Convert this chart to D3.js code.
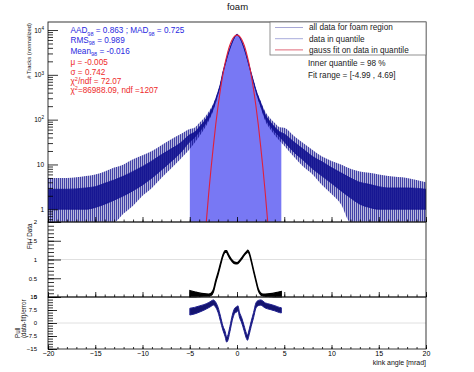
<!DOCTYPE html>
<html>
<head>
<meta charset="utf-8">
<script src="https://cdn.jsdelivr.net/npm/d3@7"></script>
<style>
body { margin: 0; background: #fff; }
svg { display: block; font-family: "Liberation Sans", Arial, sans-serif; }
</style>
</head>
<body>
<div id="chart"></div>
<script>
// histogram of kink angle (dense body + sparse spikes)
var histX   = [-20, -18, -16, -15, -14, -13, -12, -11, -10, -9, -8, -7, -6, -5, -4.5, -4, -3.5, -3, -2.5, -2,
               -1.75, -1.5, -1.25, -1, -0.75, -0.5, -0.25, 0, 0.25, 0.5, 0.75, 1, 1.25, 1.5, 1.75, 2,
               2.5, 3, 3.5, 4, 4.5, 5, 6, 7, 8, 9, 10, 11, 12, 13, 14, 15, 16, 18, 20];
var bodyLo  = [1, 1, 1, 1.1, 1.3, 1.6, 2, 2.6, 3.5, 5, 7.5, 11.5, 18, 32, 40, 53, 72, 105, 180, 385,
               595, 1060, 1700, 2640, 3830, 5320, 6900, 7900, 7000, 5420, 3880, 2590, 1660, 1050, 680, 430,
               205, 106, 73, 54, 42, 32, 19, 12.5, 8, 5.5, 3.8, 2.6, 1.8, 1.3, 1.1, 1, 1, 1, 1];
var bodyHi  = [2.8, 2.8, 3, 3.2, 3.8, 4.5, 5.5, 7, 9, 12, 16.5, 22, 30, 46, 52, 68, 90, 128, 210, 420,
               640, 1140, 1780, 2740, 3950, 5460, 7050, 8050, 7150, 5560, 4000, 2680, 1730, 1100, 715, 465,
               240, 128, 90, 68, 54, 48, 32, 22, 15, 11.5, 8.5, 6.5, 5, 4, 3.6, 3.2, 3, 3, 2.8];
var spikeLo = [0, 0, 0, 0, 0, 0, 0.8, 1.2, 2, 3, 5, 8, 13, 22, 30, 42, 60, 92, 160, 360,
               570, 1020, 1650, 2570, 3750, 5200, 6750, 7750, 6850, 5300, 3790, 2520, 1600, 1010, 650, 405,
               190, 92, 62, 45, 34, 26, 15, 9, 6, 3.5, 2.2, 1.3, 0, 0, 0, 0, 0, 0, 0];
var spikeHi = [5, 5, 5.5, 6, 7, 8.5, 10, 13, 16, 20, 27, 36, 47, 62, 66, 84, 108, 150, 230, 440,
               670, 1180, 1840, 2800, 4050, 5580, 7200, 8200, 7300, 5680, 4100, 2750, 1780, 1140, 740, 490,
               260, 150, 108, 84, 68, 66, 44, 30, 21, 15, 12, 10, 8, 7, 6.5, 6, 5.5, 5, 4];

// gauss fit curve
var gaussX = [-3.5, -3.25, -3, -2.75, -2.5, -2.25, -2, -1.75, -1.5, -1.25, -1, -0.75, -0.5, -0.25, 0,
              0.25, 0.5, 0.75, 1, 1.25, 1.5, 1.75, 2, 2.25, 2.5, 2.75, 3, 3.25, 3.5];
var gaussY = [0.11, 0.52, 2.2, 8, 26, 78, 204, 476, 997, 1863, 3105, 4620, 6137, 7275, 7700,
              7275, 6137, 4620, 3105, 1863, 997, 476, 204, 78, 26, 8, 2.2, 0.52, 0.11];

// fit / data ratio band
var ratioX  = [-4.99, -4.5, -4, -3.5, -3, -2.75, -2.5, -2.25, -2, -1.75, -1.5, -1.25, -1.1, -1, -0.75, -0.5, -0.25, 0,
               0.25, 0.5, 0.75, 1, 1.15, 1.3, 1.5, 1.75, 2, 2.25, 2.5, 2.75, 3, 3.5, 4, 4.5, 4.69];
var ratioLo = [0, 0, 0.01, 0.02, 0.03, 0.04, 0.13, 0.38, 0.6, 0.84, 1.07, 1.19, 1.19, 1.14, 1.02, 0.94, 0.89, 0.88,
               0.93, 1.01, 1.1, 1.17, 1.2, 1.14, 0.95, 0.68, 0.42, 0.17, 0.06, 0.03, 0.02, 0.01, 0, 0, 0];
var ratioHi = [0.17, 0.14, 0.11, 0.09, 0.08, 0.1, 0.2, 0.45, 0.66, 0.9, 1.12, 1.24, 1.24, 1.19, 1.07, 0.98, 0.93, 0.92,
               0.97, 1.05, 1.14, 1.21, 1.25, 1.19, 1.0, 0.73, 0.47, 0.22, 0.11, 0.08, 0.08, 0.09, 0.11, 0.14, 0.15];

// pull band
var pullX  = [-4.99, -4.5, -4, -3.5, -3, -2.75, -2.5, -2.25, -2, -1.75, -1.5, -1.25, -1.1, -1, -0.75, -0.5, -0.25, 0,
              0.1, 0.25, 0.5, 0.75, 1, 1.1, 1.3, 1.5, 1.75, 2, 2.25, 2.5, 3, 3.5, 4, 4.5, 4.69];
var pullLo = [4.6, 5.2, 6.2, 7.4, 8.8, 9.6, 10.4, 9, 6, 1, -4, -8, -11, -10.5, -5, 1.5, 5.5, 6.5,
              7, 3.5, 0, -4.5, -9, -10, -6.5, -2, 3, 8.5, 10, 10.3, 8.6, 7.8, 7, 6, 5.8];
var pullHi = [8.5, 9, 9.8, 10.6, 11.8, 12.6, 13.3, 12, 9, 4, -1.5, -5, -8, -7.5, -2, 4.5, 8.5, 9.5,
              10, 6.5, 3, -1.5, -6, -7, -3.5, 1, 6, 11.5, 13, 13.3, 11.6, 10.8, 10, 9, 8.8];

var logMajor = [1, 10, 100, 1000, 10000];
var xMajor = [-20, -15, -10, -5, 0, 5, 10, 15, 20];

var navy = "#10108f";
var fillBlue = "#7878f4";
var fitRed = "#e0203a";

// page / frame geometry
var svgWidth = 474, svgHeight = 372;
var left = 48, right = 426;
var topY0 = 22, topY1 = 222, midY1 = 297, botY1 = 349;

var svg = d3.select("#chart").append("svg")
    .attr("width", svgWidth)
    .attr("height", svgHeight);

var x = d3.scaleLinear().domain([-20, 20]).range([left, right]);
var yTop = d3.scaleLog().domain([0.52, 15100]).range([topY1, topY0]).clamp(true);
var yFree = yTop.copy().clamp(false);
var yMid = d3.scaleLinear().domain([0, 2]).range([midY1, topY1]);
var yBot = d3.scaleLinear().domain([-15, 15]).range([botY1, midY1]);

var idx = d3.range(histX.length);

var defs = svg.append("defs");
defs.append("clipPath").attr("id", "clipTop")
  .append("rect").attr("x", left).attr("y", topY0).attr("width", right - left).attr("height", topY1 - topY0);
defs.append("clipPath").attr("id", "clipQuant")
  .append("rect").attr("x", x(-4.99)).attr("y", topY0).attr("width", x(4.69) - x(-4.99)).attr("height", topY1 - topY0);
// thin vertical strokes, like many narrow histogram bins
var pat = defs.append("pattern").attr("id", "bins")
    .attr("patternUnits", "userSpaceOnUse").attr("width", 2).attr("height", 4);
pat.append("rect").attr("x", 0).attr("y", 0).attr("width", 2).attr("height", 4)
    .attr("fill", navy).attr("fill-opacity", 0.3);
pat.append("rect").attr("x", 0).attr("y", 0).attr("width", 1).attr("height", 4)
    .attr("fill", navy).attr("fill-opacity", 0.7);

var topG = svg.append("g").attr("clip-path", "url(#clipTop)");

function band(lo, hi, xs, ys) {
    return d3.area()
        .x(i => x(xs[i]))
        .y0(i => ys(lo[i]))
        .y1(i => ys(hi[i]))
        .curve(d3.curveMonotoneX);
}

// data in quantile (filled)
topG.append("path")
    .attr("clip-path", "url(#clipQuant)")
    .attr("d", d3.area().x(i => x(histX[i])).y0(topY1).y1(i => yTop(bodyHi[i])).curve(d3.curveMonotoneX)(idx))
    .attr("fill", fillBlue);

// all data: sparse spikes then dense body
topG.append("path")
    .attr("d", band(spikeLo, spikeHi, histX, yTop)(idx))
    .attr("fill", "url(#bins)");
topG.append("path")
    .attr("d", band(bodyLo, bodyHi, histX, yTop)(idx))
    .attr("fill", navy)
    .attr("fill-opacity", 0.88)
    .attr("stroke", navy)
    .attr("stroke-width", 0.7);

// gauss fit
topG.append("path")
    .attr("d", d3.line().x((d, i) => x(gaussX[i])).y(d => yFree(d)).curve(d3.curveMonotoneX)(gaussY))
    .attr("fill", "none")
    .attr("stroke", fitRed)
    .attr("stroke-width", 1.1);

// grid lines in lower panels
svg.append("line").attr("x1", left).attr("x2", right).attr("y1", yMid(1)).attr("y2", yMid(1))
    .attr("stroke", "#d8d8d8").attr("stroke-width", 0.8);
svg.append("line").attr("x1", left).attr("x2", right).attr("y1", yBot(0)).attr("y2", yBot(0))
    .attr("stroke", "#d8d8d8").attr("stroke-width", 0.8);

// fit / data ratio
var ri = d3.range(ratioX.length);
svg.append("path")
    .attr("d", band(ratioLo, ratioHi, ratioX, yMid)(ri))
    .attr("fill", "#000")
    .attr("stroke", "#000")
    .attr("stroke-width", 1.2);

// pull
var pi = d3.range(pullX.length);
svg.append("path")
    .attr("d", band(pullLo, pullHi, pullX, yBot)(pi))
    .attr("fill", "#141470")
    .attr("stroke", "#202090")
    .attr("stroke-width", 1);

// frames
[[topY0, topY1], [topY1, midY1], [midY1, botY1]].forEach(function(p) {
    svg.append("rect")
        .attr("x", left).attr("y", p[0])
        .attr("width", right - left).attr("height", p[1] - p[0])
        .attr("fill", "none").attr("stroke", "#222").attr("stroke-width", 0.9);
});

// axis helper: inward ticks
function drawAxis(axis, tx, ty, size) {
    var g = svg.append("g")
        .attr("transform", `translate(${tx}, ${ty})`)
        .style("color", "#000")
        .call(axis);
    g.select(".domain").remove();
    g.attr("font-size", size).attr("font-family", "Liberation Sans, Arial, sans-serif");
    g.selectAll(".tick line").attr("stroke-width", 0.8);
    return g;
}

// top panel log y axis
var logMinor = [];
[0.1, 1, 10, 100, 1000].forEach(function(d) {
    for (var k = 2; k <= 9; k++) {
        if (k * d >= 0.52 && k * d <= 15100) logMinor.push(k * d);
    }
});
var topAx = drawAxis(d3.axisLeft(yTop).tickValues(logMajor).tickSize(-10).tickPadding(4), left, 0, 6.5);
topAx.selectAll(".tick text").each(function(d) {
    var e = Math.round(Math.log10(d));
    var t = d3.select(this).text(null);
    if (e < 2) { t.text(d); return; }
    t.append("tspan").text("10");
    t.append("tspan").attr("dy", -2.8).attr("font-size", 4.6).text(e);
});
drawAxis(d3.axisLeft(yTop).tickValues(logMinor).tickSize(-5).tickFormat(""), left, 0, 6.5);

// ratio axis
drawAxis(d3.axisLeft(yMid).tickValues([0, 0.5, 1, 1.5, 2]).tickSize(-13).tickPadding(11)
    .tickFormat(d3.format("")), left, 0, 6);
drawAxis(d3.axisLeft(yMid).tickValues(d3.range(0, 2.01, 0.1)).tickSize(-6).tickFormat(""), left, 0, 6);

// pull axis
drawAxis(d3.axisLeft(yBot).tickValues([-15, -7.5, 0, 7.5, 15]).tickSize(-9).tickPadding(11)
    .tickFormat(d3.format("")), left, 0, 6);
drawAxis(d3.axisLeft(yBot).tickValues(d3.range(-15, 15.1, 1.5)).tickSize(-5).tickFormat(""), left, 0, 6);

// x ticks on each panel bottom
var xMinor = d3.range(-20, 20.1, 1);
[topY1, midY1].forEach(function(yy) {
    drawAxis(d3.axisBottom(x).tickValues(xMajor).tickSize(-5).tickFormat(""), 0, yy, 7);
    drawAxis(d3.axisBottom(x).tickValues(xMinor).tickSize(-2.5).tickFormat(""), 0, yy, 7);
});
drawAxis(d3.axisBottom(x).tickValues(xMajor).tickSize(-4).tickPadding(2).tickFormat(d3.format("")), 0, botY1, 7);
drawAxis(d3.axisBottom(x).tickValues(xMinor).tickSize(-2).tickFormat(""), 0, botY1, 7);

// axis titles
svg.append("text").attr("x", right).attr("y", 365).attr("text-anchor", "end")
    .attr("font-size", 7).attr("fill", "#111").text("kink angle [mrad]");
svg.append("text").attr("transform", "translate(31, 23) rotate(-90)").attr("text-anchor", "end")
    .attr("font-size", 5.8).attr("fill", "#111").text("# Tracks (normalized)");
svg.append("text").attr("transform", "translate(32, 223.5) rotate(-90)").attr("text-anchor", "end")
    .attr("font-size", 6.3).attr("fill", "#111").text("Fit / Data");
svg.append("text").attr("transform", "translate(19.5, 338) rotate(-90)").attr("text-anchor", "start")
    .attr("font-size", 6.3).attr("fill", "#111").text("Pull");
svg.append("text").attr("transform", "translate(25.5, 338) rotate(-90)").attr("text-anchor", "start")
    .attr("font-size", 6.3).attr("fill", "#111").text("(data-fit)/error");

// title
svg.append("text").attr("x", 237.5).attr("y", 10).attr("text-anchor", "middle")
    .attr("font-size", 9.5).attr("fill", "#111").text("foam");

// text with sub / superscripts
function richText(px, py, parts, size, color) {
    var t = svg.append("text").attr("x", px).attr("y", py)
        .attr("font-size", size).attr("fill", color);
    var shift = 0;
    parts.forEach(function(p) {
        var s = p[1] === "sub" ? size * 0.3 : p[1] === "sup" ? -size * 0.36 : 0;
        t.append("tspan")
            .attr("dy", s - shift)
            .attr("font-size", p[1] ? size * 0.68 : size)
            .text(p[0]);
        shift = s;
    });
    return t;
}

var statBlue = "#2828e0", statRed = "#ee2a2a";
richText(70.5, 33.3, [["AAD"], ["98", "sub"], [" = 0.863 ; MAD"], ["98", "sub"], [" = 0.725"]], 8.2, statBlue);
richText(70.5, 42.7, [["RMS"], ["98", "sub"], [" = 0.989"]], 8.2, statBlue);
richText(70.5, 54, [["Mean"], ["98", "sub"], [" = -0.016"]], 8.2, statBlue);
richText(70.5, 65.3, [["\u03bc = -0.005"]], 8.2, statRed);
richText(70.5, 74.8, [["\u03c3 = 0.742"]], 8.2, statRed);
richText(70.5, 83.8, [["\u03c7"], ["2", "sup"], ["/ndf = 72.07"]], 8.2, statRed);
richText(70.5, 93.3, [["\u03c7"], ["2", "sup"], ["=86988.09, ndf =1207"]], 8.2, statRed);

// legend
var legendItems = ["all data for foam region", "data in quantile", "gauss fit on data in quantile"];
var legendColors = ["#a8a8d6", "#a8acdc", "#e06878"];
svg.append("rect").attr("x", 270).attr("y", 22).attr("width", 156).attr("height", 33)
    .attr("fill", "#fff").attr("stroke", "#777").attr("stroke-width", 0.8);
legendItems.forEach(function(s, i) {
    var yy = 27.5 + i * 11.2;
    svg.append("line").attr("x1", 275).attr("x2", 303).attr("y1", yy).attr("y2", yy)
        .attr("stroke", legendColors[i]).attr("stroke-width", 1);
    svg.append("text").attr("x", 309).attr("y", yy + 2.8)
        .attr("font-size", 8.2).attr("fill", "#222").text(s);
});
svg.append("text").attr("x", 308).attr("y", 66).attr("font-size", 8.2).attr("fill", "#222")
    .text("Inner quantile = 98 %");
svg.append("text").attr("x", 308).attr("y", 77.5).attr("font-size", 8.2).attr("fill", "#222")
    .text("Fit range = [-4.99 , 4.69]");
</script>
</body>
</html>
